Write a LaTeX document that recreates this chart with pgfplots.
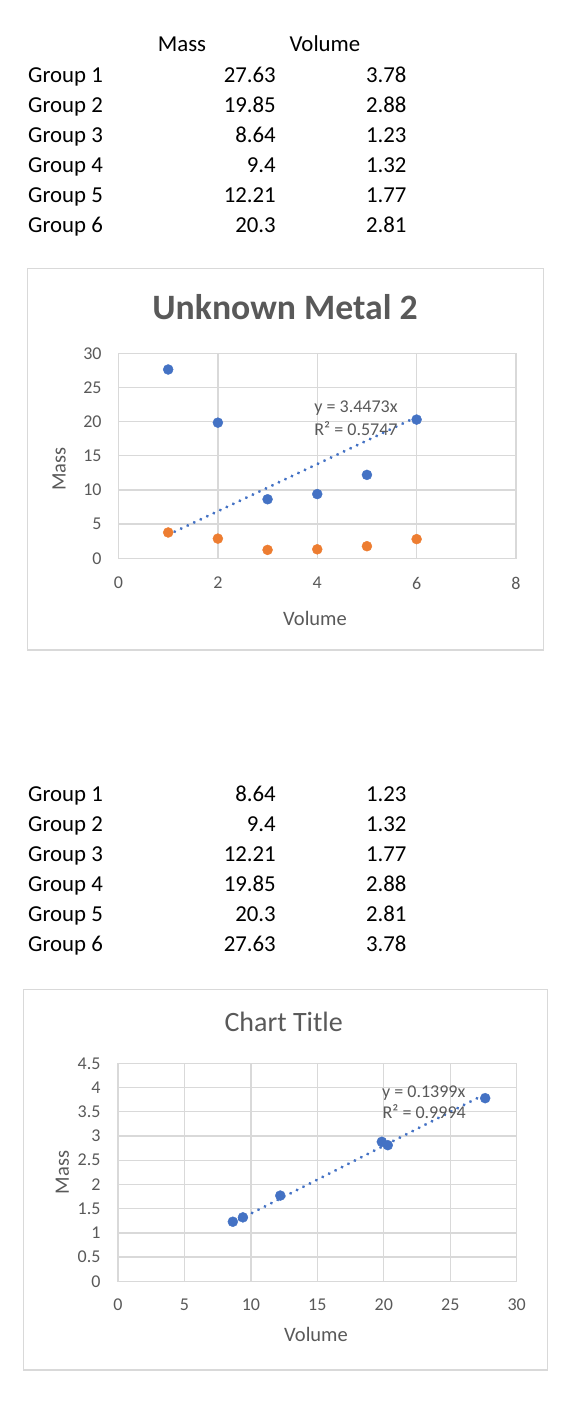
\documentclass[border=0pt]{standalone}
\usepackage{pgfplots}
\pgfplotsset{compat=1.18}
\usepackage{fontspec}
\setmainfont{Carlito}
\definecolor{xlblue}{HTML}{4472C4}
\definecolor{xlorange}{HTML}{ED7D31}
\definecolor{xlgrid}{HTML}{D9D9D9}
\definecolor{xltext}{HTML}{595959}
\pgfplotsset{xlstyle/.style={
  scale only axis,
  axis line style={draw=xlgrid, line width=1.3pt},
  grid=major,
  major grid style={draw=xlgrid, line width=1.3pt},
  major tick length=0pt,
  tick label style={font=\fontsize{18}{20}\selectfont, text=xltext, inner sep=0pt},
  /pgf/number format/assume math mode=true,
  /pgf/number format/fixed,
  clip=false,
}}
\newcommand{\tabfont}{\fontsize{22.8}{25}\selectfont}
\newcommand{\labfont}{\fontsize{20.5}{23}\selectfont}
\newcommand{\trfont}{\fontsize{18}{20}\selectfont}
\begin{document}
\begin{tikzpicture}[x=1pt,y=-1pt]
\useasboundingbox (0,0) rectangle (574,1410);
% ---------- table 1 ----------
\begin{scope}[every node/.style={inner sep=0pt, font=\tabfont}]
\node[anchor=base west] at (157.7,51.7) {Mass};
\node[anchor=base west] at (289.3,51.7) {Volume};
\node[anchor=base west] at (28,82.3) {Group 1};
\node[anchor=base west] at (28,112.3) {Group 2};
\node[anchor=base west] at (28,142.3) {Group 3};
\node[anchor=base west] at (28,172.3) {Group 4};
\node[anchor=base west] at (28,202.3) {Group 5};
\node[anchor=base west] at (28,232.3) {Group 6};
\node[anchor=base east] at (276,82.3) {27.63};
\node[anchor=base east] at (276,112.3) {19.85};
\node[anchor=base east] at (276,142.3) {8.64};
\node[anchor=base east] at (276,172.3) {9.4};
\node[anchor=base east] at (276,202.3) {12.21};
\node[anchor=base east] at (276,232.3) {20.3};
\node[anchor=base east] at (406.7,82.3) {3.78};
\node[anchor=base east] at (406.7,112.3) {2.88};
\node[anchor=base east] at (406.7,142.3) {1.23};
\node[anchor=base east] at (406.7,172.3) {1.32};
\node[anchor=base east] at (406.7,202.3) {1.77};
\node[anchor=base east] at (406.7,232.3) {2.81};
% ---------- table 2 ----------
\node[anchor=base west] at (28,801.7) {Group 1};
\node[anchor=base west] at (28,831.7) {Group 2};
\node[anchor=base west] at (28,861.7) {Group 3};
\node[anchor=base west] at (28,891.7) {Group 4};
\node[anchor=base west] at (28,921.7) {Group 5};
\node[anchor=base west] at (28,951.7) {Group 6};
\node[anchor=base east] at (276,801.7) {8.64};
\node[anchor=base east] at (276,831.7) {9.4};
\node[anchor=base east] at (276,861.7) {12.21};
\node[anchor=base east] at (276,891.7) {19.85};
\node[anchor=base east] at (276,921.7) {20.3};
\node[anchor=base east] at (276,951.7) {27.63};
\node[anchor=base east] at (406.7,801.7) {1.23};
\node[anchor=base east] at (406.7,831.7) {1.32};
\node[anchor=base east] at (406.7,861.7) {1.77};
\node[anchor=base east] at (406.7,891.7) {2.88};
\node[anchor=base east] at (406.7,921.7) {2.81};
\node[anchor=base east] at (406.7,951.7) {3.78};
\end{scope}
% ---------- chart 1 ----------
\draw[xlgrid, line width=1.3pt] (27.7,268.3) rectangle (543.3,650);
\node[inner sep=0pt, text=xltext, font=\fontsize{35.7}{38}\selectfont\bfseries] at (285,306.7) {Unknown Metal 2};
\begin{axis}[xlstyle,
  at={(118.5pt,-558.3pt)}, anchor=south west,
  width=397.5pt, height=205pt,
  xmin=0, xmax=8, ymin=0, ymax=30,
  xtick={0,2,...,8}, ytick={0,5,...,30},
  yticklabel style={anchor=east, xshift=-16.8pt},
  xticklabel style={anchor=center, yshift=-24.7pt},
]
\addplot[only marks, mark=*, mark size=5pt, color=xlblue] coordinates {
 (1,27.63) (2,19.85) (3,8.64) (4,9.4) (5,12.21) (6,20.3)};
\addplot[only marks, mark=*, mark size=5pt, color=xlorange] coordinates {
 (1,3.78) (2,2.88) (3,1.23) (4,1.32) (5,1.77) (6,2.81)};
\addplot[xlblue, line width=3.3pt, line cap=round, dash pattern=on 0.01pt off 7.2pt] coordinates {
 (1,3.4473) (6,20.6838)};
\end{axis}
\node[inner sep=0pt, text=xltext, font=\labfont] at (315,618.3) {Volume};
\node[inner sep=0pt, text=xltext, font=\labfont, rotate=90] at (59,469) {Mass};
\node[inner sep=0pt, text=xltext, font=\trfont, anchor=base] at (356,412.7) {y = 3.4473x};
\node[inner sep=0pt, text=xltext, font=\trfont, anchor=base] at (356,435) {R² = 0.5747};
% ---------- chart 2 ----------
\draw[xlgrid, line width=1.3pt] (23.4,989.3) rectangle (547.7,1370);
\node[inner sep=0pt, text=xltext, font=\fontsize{28}{30}\selectfont] at (283.7,1021.7) {Chart Title};
\begin{axis}[xlstyle,
  at={(118pt,-1281.3pt)}, anchor=south west,
  width=398.7pt, height=218pt,
  xmin=0, xmax=30, ymin=0, ymax=4.5,
  xtick={0,5,...,30}, ytick={0,0.5,...,4.5},
  yticklabel style={anchor=east, xshift=-17.3pt},
  xticklabel style={anchor=center, yshift=-23.7pt},
]
\addplot[only marks, mark=*, mark size=5pt, color=xlblue] coordinates {
 (8.64,1.23) (9.4,1.32) (12.21,1.77) (19.85,2.88) (20.3,2.81) (27.63,3.78)};
\addplot[xlblue, line width=3.3pt, line cap=round, dash pattern=on 0.01pt off 7.2pt] coordinates {
 (8.64,1.2087) (27.63,3.8654)};
\end{axis}
\node[inner sep=0pt, text=xltext, font=\labfont] at (316,1334) {Volume};
\node[inner sep=0pt, text=xltext, font=\labfont, rotate=90] at (62.3,1172.5) {Mass};
\node[inner sep=0pt, text=xltext, font=\trfont, anchor=base] at (423.8,1097.3) {y = 0.1399x};
\node[inner sep=0pt, text=xltext, font=\trfont, anchor=base] at (424.2,1118.3) {R² = 0.9994};
\end{tikzpicture}
\end{document}
